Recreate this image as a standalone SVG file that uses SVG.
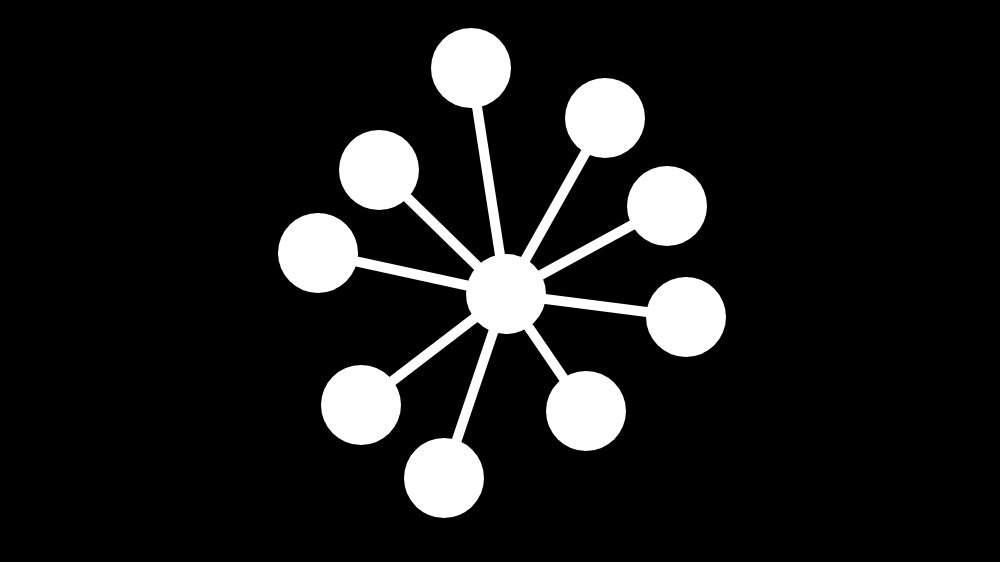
<svg xmlns="http://www.w3.org/2000/svg" width="1000" height="562" viewBox="0 0 1000 562">
<style>
.node{fill:#ffffff}
.spoke{stroke:#ffffff;stroke-width:10;stroke-linecap:butt}
</style>
<rect x="0" y="0" width="1000" height="562" fill="#000000"/>
<g id="connectors">
<line class="spoke" x1="506" y1="294" x2="471" y2="68"/>
<line class="spoke" x1="506" y1="294" x2="605" y2="118"/>
<line class="spoke" x1="506" y1="294" x2="667" y2="206"/>
<line class="spoke" x1="506" y1="294" x2="686" y2="317"/>
<line class="spoke" x1="506" y1="294" x2="586" y2="411"/>
<line class="spoke" x1="506" y1="294" x2="444" y2="478"/>
<line class="spoke" x1="506" y1="294" x2="361" y2="405"/>
<line class="spoke" x1="506" y1="294" x2="318" y2="253"/>
<line class="spoke" x1="506" y1="294" x2="379" y2="170"/>
</g>
<g id="hub"><circle class="node" cx="506" cy="294" r="40"/></g>
<g id="n1"><circle class="node" cx="471" cy="68" r="40"/></g>
<g id="n2"><circle class="node" cx="605" cy="118" r="40"/></g>
<g id="n3"><circle class="node" cx="667" cy="206" r="40"/></g>
<g id="n4"><circle class="node" cx="686" cy="317" r="40"/></g>
<g id="n5"><circle class="node" cx="586" cy="411" r="40"/></g>
<g id="n6"><circle class="node" cx="444" cy="478" r="40"/></g>
<g id="n7"><circle class="node" cx="361" cy="405" r="40"/></g>
<g id="n8"><circle class="node" cx="318" cy="253" r="40"/></g>
<g id="n9"><circle class="node" cx="379" cy="170" r="40"/></g>
</svg>
